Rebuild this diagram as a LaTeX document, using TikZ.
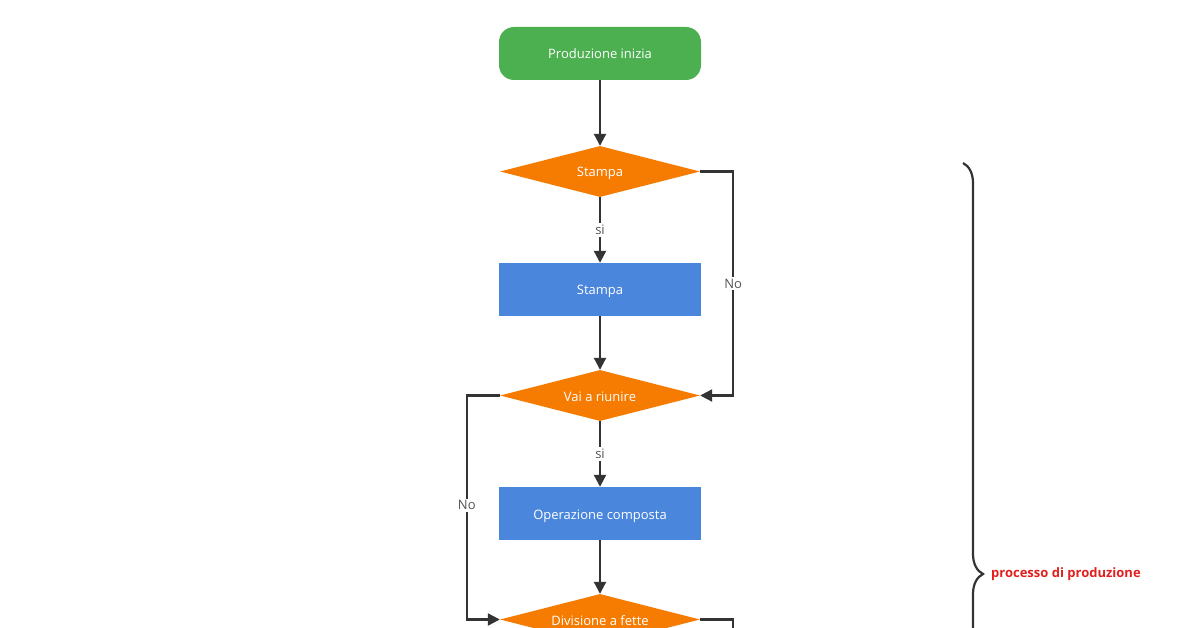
\documentclass[tikz,border=0pt]{standalone}
\usepackage{fontspec}
\setmainfont{Open Sans}
\usepackage{xcolor}
\definecolor{flowgreen}{HTML}{4CAF50}
\definecolor{floworange}{HTML}{F57C00}
\definecolor{flowblue}{HTML}{4A86DC}
\definecolor{flowline}{HTML}{333333}
\definecolor{flowlabel}{HTML}{555555}
\definecolor{flowred}{HTML}{E0201E}
\usepackage{tikz}
\usetikzlibrary{arrows.meta,positioning,shapes.geometric,decorations.pathreplacing}

\tikzset{
  boxfont/.style={font=\fontsize{13}{15}\selectfont,text height=11pt,text depth=0pt},
  startbox/.style={boxfont,fill=flowgreen,text=white,rounded corners=15pt,
    minimum width=202pt,minimum height=53pt,inner sep=0pt},
  stepbox/.style={boxfont,fill=flowblue,text=white,
    minimum width=202pt,minimum height=53pt,inner sep=0pt},
  askbox/.style={boxfont,diamond,aspect=3.9,fill=floworange,text=white,
    minimum width=200pt,minimum height=51pt,inner sep=0pt},
  flow/.style={draw=flowline,line width=2.2pt,-{Triangle[length=12pt,width=12pt]}},
  link/.style={draw=flowline,line width=2.2pt},
  answer/.style={fill=white,text=flowlabel,inner sep=2pt,font=\fontsize{13}{15}\selectfont},
}

\begin{document}
\begin{tikzpicture}[x=1pt,y=-1pt]
\useasboundingbox (0,0) rectangle (1200,628);
\clip (0,0) rectangle (1200,628);

% main column
\node[startbox] (inizio) at (600,53.5) {Produzione inizia};
\node[askbox] (qstampa) at (600,171.5) {Stampa};
\node[stepbox] (stampa) at (600,289.5) {Stampa};
\node[askbox] (qriunire) at (600,395.5) {Vai a riunire};
\node[stepbox] (composta) at (600,513.5) {Operazione composta};
\node[askbox] (qfette) at (600,619.5) {Divisione a fette};

\draw[flow] (inizio) -- (qstampa);
\draw[flow] (qstampa) -- node[answer] {si} (stampa);
\draw[flow] (stampa) -- (qriunire);
\draw[flow] (qriunire) -- node[answer] {si} (composta);
\draw[flow] (composta) -- (qfette);

% branches "No"
\draw[flow] (qstampa.east) -- ++(33,0) |- node[answer,pos=0.25] {No} (qriunire.east);
\draw[flow] (qriunire.west) -- ++(-33,0) |- node[answer,pos=0.245] {No} (qfette.west);
\coordinate (giu) at (733,700);
\draw[link] (qfette.east) -| (giu);

% brace
\coordinate (btop) at (963,163);
\coordinate (bbot) at (963,985);
\draw[flowline,line width=2.2pt,decorate,decoration={brace,amplitude=20pt}] (btop) -- (bbot);
\node[anchor=west,text=flowred,font=\fontsize{13}{15}\selectfont\bfseries,inner sep=0pt] (fase) at (991,574) {processo di produzione};
\end{tikzpicture}
\end{document}
